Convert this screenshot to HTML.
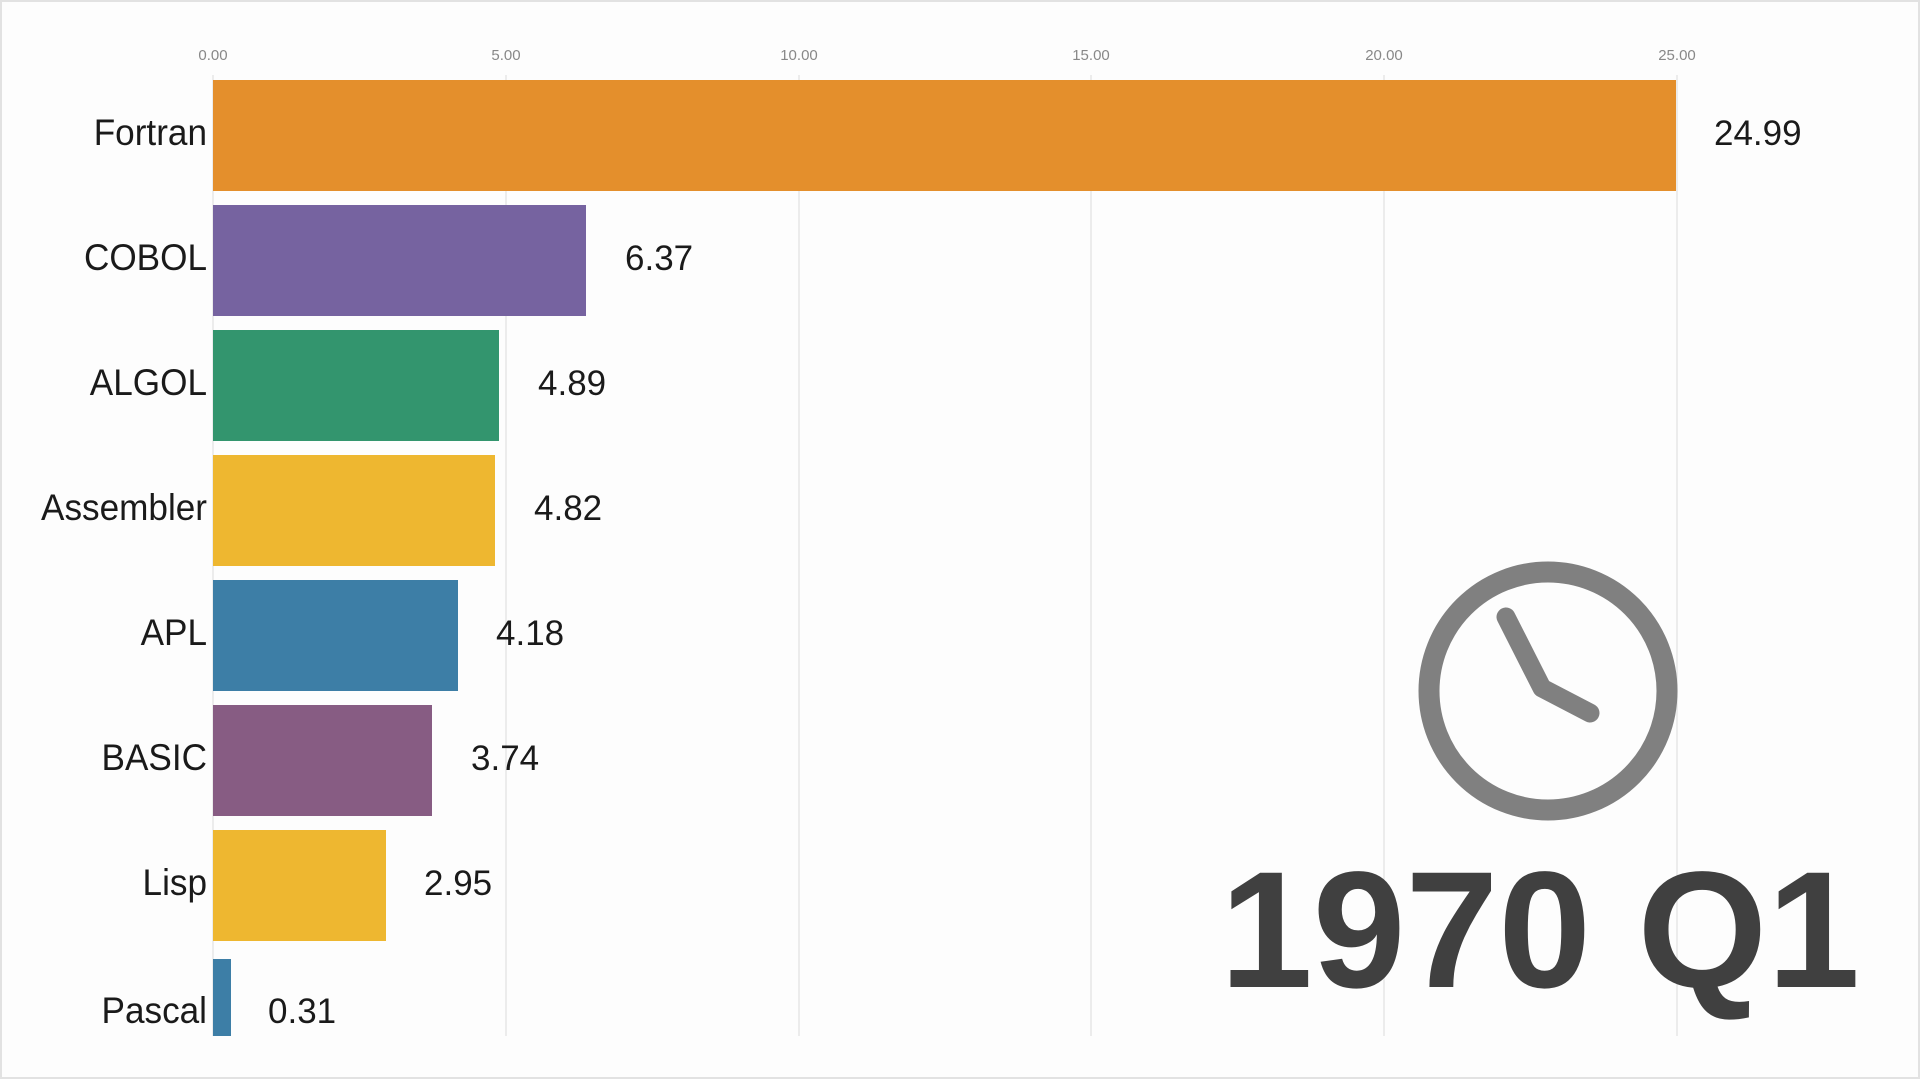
<!DOCTYPE html>
<html><head><meta charset="utf-8"><style>
html,body{margin:0;padding:0;background:#fff;}
svg{display:block;}
</style></head><body>
<svg width="1920" height="1080" viewBox="0 0 1920 1080" xmlns="http://www.w3.org/2000/svg">
<rect x="1" y="1" width="1918" height="1077" fill="#fdfdfd" stroke="#e2e2e2" stroke-width="2"/>
<g stroke="#e6e6e6" stroke-width="1.5">
<line x1="213" y1="75" x2="213" y2="1036"/>
<line x1="506" y1="75" x2="506" y2="1036"/>
<line x1="799" y1="75" x2="799" y2="1036"/>
<line x1="1091" y1="75" x2="1091" y2="1036"/>
<line x1="1384" y1="75" x2="1384" y2="1036"/>
<line x1="1677" y1="75" x2="1677" y2="1036"/>
</g>
<g font-family="Liberation Sans, sans-serif" font-size="15" fill="#888" text-anchor="middle">
<text x="213" y="60">0.00</text>
<text x="506" y="60">5.00</text>
<text x="799" y="60">10.00</text>
<text x="1091" y="60">15.00</text>
<text x="1384" y="60">20.00</text>
<text x="1677" y="60">25.00</text>
</g>
<rect x="213" y="80" width="1463" height="111" fill="#E48F2C"/>
<rect x="213" y="205" width="373" height="111" fill="#7663A0"/>
<rect x="213" y="330" width="286" height="111" fill="#33956E"/>
<rect x="213" y="455" width="282" height="111" fill="#EEB730"/>
<rect x="213" y="580" width="245" height="111" fill="#3D7EA6"/>
<rect x="213" y="705" width="219" height="111" fill="#875C83"/>
<rect x="213" y="830" width="173" height="111" fill="#EEB730"/>
<rect x="213" y="959" width="18" height="77" fill="#3D7EA6"/>
<g transform="translate(207,0) scale(0.95,1) translate(-207,0)" font-family="Liberation Sans, sans-serif" font-size="37" fill="#1a1a1a" text-anchor="end">
<text x="207" y="145">Fortran</text>
<text x="207" y="270">COBOL</text>
<text x="207" y="395">ALGOL</text>
<text x="207" y="520">Assembler</text>
<text x="207" y="645">APL</text>
<text x="207" y="770">BASIC</text>
<text x="207" y="895">Lisp</text>
<text x="207" y="1023">Pascal</text>
</g>
<g font-family="Liberation Sans, sans-serif" font-size="35" fill="#1a1a1a">
<text x="1714" y="145">24.99</text>
<text x="625" y="270">6.37</text>
<text x="538" y="395">4.89</text>
<text x="534" y="520">4.82</text>
<text x="496" y="645">4.18</text>
<text x="471" y="770">3.74</text>
<text x="424" y="895">2.95</text>
<text x="268" y="1023">0.31</text>
</g>
<circle cx="1548" cy="691" r="119" fill="none" stroke="#808080" stroke-width="21"/>
<polyline points="1506,617 1542,688 1590,713" fill="none" stroke="#808080" stroke-width="19" stroke-linecap="round" stroke-linejoin="round"/>
<text x="1220" y="987" font-family="Liberation Sans, sans-serif" font-weight="bold" font-size="166" fill="#404040" textLength="640" lengthAdjust="spacingAndGlyphs">1970 Q1</text>
</svg>
</body></html>
